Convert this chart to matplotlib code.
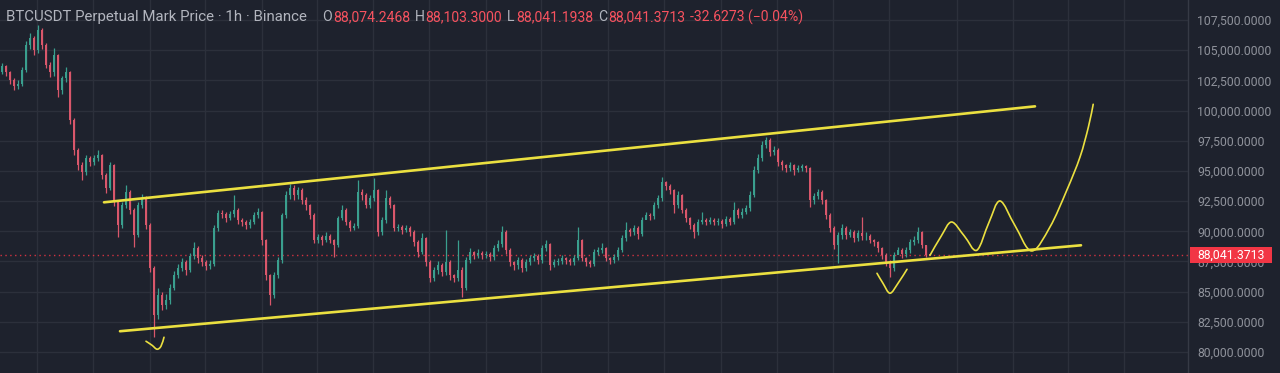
import matplotlib
matplotlib.use("Agg")
import matplotlib.pyplot as plt
from matplotlib.path import Path
from matplotlib.patches import PathPatch, Rectangle
import numpy as np

plt.rcParams['font.family'] = ['Roboto', 'DejaVu Sans']

# ---------------- data (hourly BTCUSDT mark price, sampled candles) ----------------
first_open = 103200
closes = [103660, 103160, 102500, 102000, 102170, 103330, 105400, 105980, 104990, 106640,
          105400, 103750, 103160, 104570, 101670, 102670, 103160, 99190, 96710, 95460,
          94880, 96040, 95710, 96040, 96290, 94640, 93560, 95460, 92400, 90500,
          92150, 93230, 91740, 89670, 92150, 92730, 90500, 86940, 83040, 84700,
          83870, 84290, 85280, 86360, 86940, 87430, 86770, 87930, 88590, 87760,
          87430, 87100, 87270, 90250, 91490, 91410, 91080, 91410, 91740, 90910,
          90750, 90500, 90750, 91320, 91570, 89250, 86360, 84700, 86360, 87600,
          91320, 92980, 93560, 92980, 93400, 92570, 92150, 91320, 89250, 89500,
          89250, 89590, 89250, 88840, 91080, 91740, 90750, 90250, 90420, 93230,
          92980, 92150, 92730, 93400, 89920, 90910, 92730, 92150, 90250, 90330,
          90080, 90250, 89920, 89090, 88260, 89420, 87430, 86110, 86770, 87180,
          86610, 87430, 86360, 86110, 86770, 85280, 87600, 88260, 88010, 88180,
          88010, 88100, 87850, 88590, 88920, 89920, 88430, 87430, 87180, 87600,
          86940, 87430, 87760, 87930, 87600, 88590, 88920, 87180, 87430, 87510,
          87760, 87600, 87430, 87760, 89250, 87760, 87430, 87270, 88260, 88430,
          88590, 87760, 87600, 87850, 88430, 89420, 90080, 89920, 90250, 89750,
          90910, 91320, 91240, 92150, 92730, 94060, 93730, 93400, 92150, 92980,
          91740, 91080, 90500, 89920, 90750, 90910, 90750, 90910, 90750, 90830,
          90580, 90990, 90750, 91740, 91320, 91570, 91900, 92980, 95050, 96040,
          97120, 97530, 96540, 96710, 95710, 95460, 95220, 95460, 95050, 95220,
          95380, 95220, 92570, 92900, 93230, 92570, 91320, 90250, 88840, 89670,
          90250, 89670, 89920, 89420, 89830, 89590, 89600, 89250, 89090, 88590,
          88010, 87430, 86940, 88010, 88430, 88100, 88430, 89090, 89250, 89920,
          88840, 88074.2468, 88041.3713]
highs = [103900, 103800, 103300, 102700, 102500, 103600, 105800, 106400, 106200, 107100,
         106800, 105600, 104000, 105150, 104700, 102900, 103600, 103300, 99400, 96900,
         95700, 96300, 96250, 96300, 96700, 96400, 94800, 95700, 95600, 92600,
         92400, 93800, 93400, 91900, 92400, 93050, 92900, 90700, 87100, 85300,
         85000, 84800, 85600, 86700, 87300, 87800, 87600, 88200, 89100, 88800,
         88000, 87600, 87600, 90500, 91800, 91800, 91600, 91700, 92980, 91900,
         91100, 90900, 91000, 91600, 91900, 91700, 89400, 86500, 86600, 87900,
         91500, 93300, 93900, 93800, 93700, 93600, 92800, 92300, 91500, 89800,
         89700, 89900, 89800, 89400, 91300, 92150, 91900, 90900, 90700, 94220,
         93500, 93200, 93000, 94390, 93500, 91200, 93400, 92900, 92300, 90600,
         90500, 90500, 90400, 90100, 89300, 89850, 89500, 87600, 87000, 87500,
         87400, 90100, 87600, 86500, 89250, 87000, 87900, 88600, 88400, 88500,
         88400, 88400, 88300, 88900, 89300, 90400, 90100, 88600, 87500, 87900,
         87800, 87700, 88000, 88200, 88100, 88900, 89250, 89000, 87700, 87800,
         88000, 87900, 87800, 88000, 90330, 89400, 87900, 87600, 88500, 88700,
         89000, 88700, 87900, 88100, 88700, 89700, 90750, 90300, 90500, 90400,
         91200, 91600, 91500, 92400, 93000, 94470, 94200, 93900, 93500, 93300,
         93100, 91900, 91200, 90700, 91000, 91570, 91100, 91200, 91100, 91100,
         91000, 91300, 91200, 92400, 91900, 91900, 92200, 93300, 95400, 96400,
         97500, 97800, 97700, 97100, 96900, 95900, 95600, 95700, 95600, 95500,
         95600, 95500, 95300, 93200, 93500, 93400, 92700, 91500, 90400, 89900,
         90600, 90400, 90200, 90100, 90100, 91160, 89900, 89800, 89400, 89200,
         88700, 88200, 87600, 88300, 88700, 88600, 88700, 89400, 89600, 90330,
         90000, 88900, 88103.3]
lows = [103000, 102900, 102200, 101700, 101750, 102000, 103200, 105100, 104600, 104800,
        105100, 103500, 102800, 102900, 101100, 101400, 102400, 98900, 96300, 95100,
        94220, 94700, 95400, 95500, 95800, 94300, 93200, 93400, 92100, 89500,
        90300, 91900, 91400, 88700, 89500, 91900, 90200, 86600, 81220, 82700,
        83500, 83600, 84000, 85100, 86100, 86700, 86400, 86600, 87700, 87400,
        87100, 86800, 86900, 87100, 90000, 91100, 90800, 90900, 91200, 90600,
        90400, 90200, 90300, 90600, 91100, 88900, 86000, 83870, 84500, 86100,
        87400, 91100, 92700, 92600, 92700, 92300, 91800, 91000, 89000, 89000,
        88900, 89100, 89000, 87850, 88700, 90900, 90500, 90000, 90100, 90300,
        92600, 91900, 91900, 92500, 89600, 89700, 90700, 91900, 90000, 90000,
        89800, 89900, 89600, 88800, 87900, 88100, 87100, 85800, 85900, 86500,
        86300, 86400, 86000, 85800, 85900, 84530, 85100, 87400, 87700, 87800,
        87700, 87800, 87500, 87600, 88400, 88700, 88100, 87100, 86800, 86900,
        86600, 86700, 87200, 87500, 87300, 87400, 88400, 86770, 87000, 87200,
        87300, 87300, 87200, 87200, 87600, 87500, 87100, 87000, 87100, 88000,
        88200, 87500, 87300, 87400, 87600, 88300, 89200, 89600, 89700, 89400,
        89600, 91000, 90900, 91000, 91900, 92500, 93400, 93100, 91490, 91900,
        91500, 90800, 90200, 89420, 89700, 90600, 90500, 90600, 90500, 90500,
        90300, 90400, 90500, 90600, 91100, 91100, 91400, 91700, 92800, 94800,
        95800, 96900, 96200, 96300, 95400, 95100, 94900, 95000, 94700, 94900,
        95000, 94900, 91990, 92300, 92700, 92300, 91000, 89900, 88500, 87350,
        89400, 89400, 89500, 89100, 89200, 89300, 89300, 89000, 88800, 88300,
        87700, 87100, 86190, 86700, 88100, 87800, 87900, 88200, 88900, 89000,
        88600, 87900, 88041.1938]

last_price = 88041.3713
header_o, header_h, header_l, header_c = "88,074.2468", "88,103.3000", "88,041.1938", "88,041.3713"
header_chg = "-32.6273 (\u22120.04%)"
price_ticks = [80000, 82500, 85000, 87500, 90000, 92500, 95000, 97500, 100000, 102500, 105000, 107500]

# hand-drawn annotations (candle index, price)
upper_line = ([25.5, 258.25], [92400, 100350])
lower_line = ([29.5, 269.75], [81720, 88840])
u_curve = ([36.0, 37.5, 38.75, 39.75, 40.5], [80890, 80560, 80230, 80480, 81220])
v_curve = ([218.75, 220.25, 222.0, 224.0, 226.25], [86520, 85690, 84870, 85690, 86850])
proj_curve = ([232.0, 234.8, 237.4, 240.6, 243.7, 246.7, 249.5, 253.2, 257.4, 262.0, 266.2, 269.5, 271.6, 272.8],
              [88010, 89600, 90770, 89600, 88430, 90700, 92510, 90500, 88370, 90360, 93400, 96150, 98640, 100520])

# ---------------- style ----------------
bg = '#1e222d'
grid_c = '#2c303b'
up_c = '#3a9f8e'
down_c = '#d9576b'
yellow = '#ebe040'
label_c = '#8f929b'
red = '#f23645'

W, H = 1280, 373
fig = plt.figure(figsize=(W / 100, H / 100), dpi=100, facecolor=bg)
ax = fig.add_axes([0, 0, 1188 / W, 1])
ax.set_facecolor(bg)

o = np.array([first_open] + closes[:-1], dtype=float)
c = np.array(closes, dtype=float)
hi = np.array(highs, dtype=float)
lo = np.array(lows, dtype=float)
idx = np.arange(len(c))
cols = np.where(c >= o, up_c, down_c)

ax.vlines(idx, lo, hi, colors=cols, lw=0.9, zorder=3)
body_bottom = np.minimum(o, c)
body_h = np.maximum(np.abs(c - o), 40)
ax.bar(idx, body_h, bottom=body_bottom, width=0.7, color=cols, lw=0, zorder=3)

ax.set_xlim(-0.5, 296.5)
ax.set_ylim(78260, 109160)

grid_x = [8.75, 22.75, 37, 50.75, 65, 78.75, 92.75, 106.75, 121, 134.75, 151.5, 165.5,
          179.75, 193.75, 207.75, 221.75, 238.75, 252.75, 266.5, 280.5]
ax.set_xticks(grid_x)
ax.set_xticklabels([])
ax.set_yticks(price_ticks)
ax.set_yticklabels([f"{v:,.4f}" for v in price_ticks])
ax.yaxis.tick_right()
ax.tick_params(axis='y', length=0, pad=6.5, labelsize=8.8, labelcolor=label_c)
ax.tick_params(axis='x', length=0)
ax.grid(True, color=grid_c, lw=1.0, zorder=0)
for s in ['top', 'left', 'bottom']:
    ax.spines[s].set_visible(False)
ax.spines['right'].set_color('#363a45')
ax.spines['right'].set_linewidth(1.0)

# current price dotted line
ax.axhline(last_price, color=red, lw=1.0, ls=(0, (1, 2.5)), alpha=0.85, zorder=2, clip_on=False)

# trend channel
ax.plot(*upper_line, color=yellow, lw=1.9, solid_capstyle='round', zorder=5)
ax.plot(*lower_line, color=yellow, lw=1.9, solid_capstyle='round', zorder=5)


def smooth_path(xs, ys):
    pts = np.column_stack([xs, ys]).astype(float)
    n = len(pts)
    verts = [pts[0]]
    codes = [Path.MOVETO]
    for k in range(n - 1):
        p0 = pts[k - 1] if k > 0 else pts[k]
        p1 = pts[k]
        p2 = pts[k + 1]
        p3 = pts[k + 2] if k + 2 < n else pts[k + 1]
        verts += [p1 + (p2 - p0) / 6, p2 - (p3 - p1) / 6, p2]
        codes += [Path.CURVE4] * 3
    return Path(verts, codes)


for xs, ys in (u_curve, v_curve, proj_curve):
    ax.add_patch(PathPatch(smooth_path(xs, ys), fill=False, ec=yellow, lw=1.2,
                           capstyle='round', joinstyle='round', zorder=6))

# price label box
fig.patches.append(Rectangle((1190 / W, 1 - 263 / H), 82 / W, 16 / H, transform=fig.transFigure,
                             fc=red, ec='none', zorder=5))
fig.text(1231 / W, 1 - 255.5 / H, f"{last_price:,.4f}", color='white', fontsize=8.8,
         ha='center', va='center', zorder=6)

# header (pieces chained by measured width)
ty = 1 - 17 / H
renderer = fig.canvas.get_renderer()
fig.text(6 / W, ty, "BTCUSDT Perpetual Mark Price \u00b7 1h \u00b7 Binance", color='#b2b5be',
         fontsize=10.8, va='center', ha='left')
fs = 10.1
pieces = [("O", '#b2b5be', 1), (header_o, '#f7525f', 5),
          ("H", '#b2b5be', 1), (header_h, '#f7525f', 5),
          ("L", '#b2b5be', 1), (header_l, '#f7525f', 5),
          ("C", '#b2b5be', 1), (header_c, '#f7525f', 5),
          (header_chg, '#f7525f', 0)]
xpos = 322
for txt, col, gap in pieces:
    t = fig.text(xpos / W, ty, txt, color=col, fontsize=fs, va='center', ha='left')
    xpos += t.get_window_extent(renderer).width + gap

fig.savefig("out.png", dpi=100, facecolor=bg)
